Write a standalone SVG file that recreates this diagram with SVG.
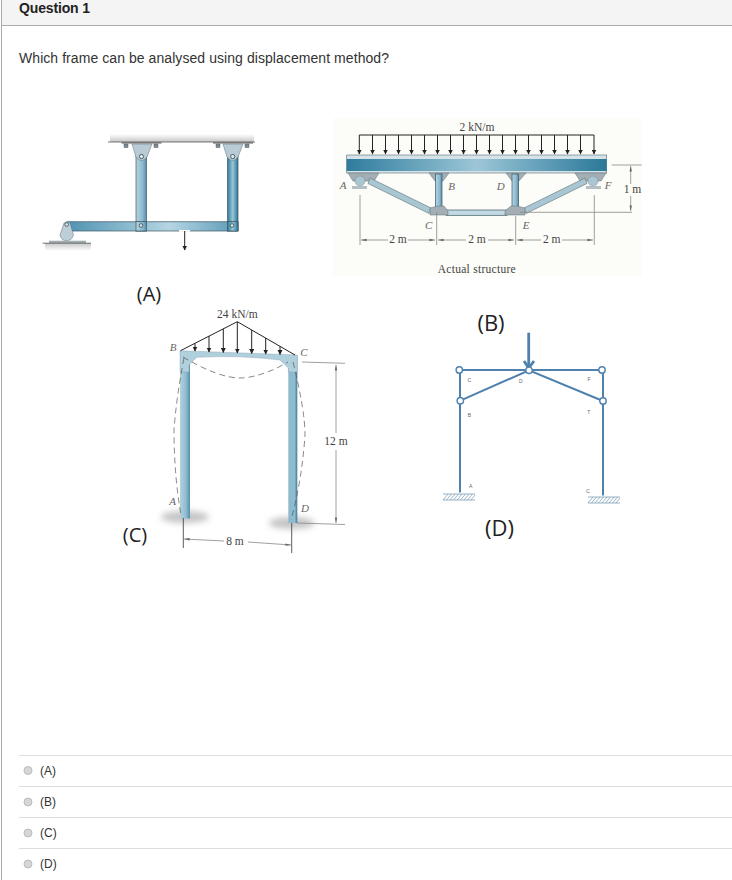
<svg xmlns="http://www.w3.org/2000/svg" width="732" height="880" viewBox="0 0 732 880">
<style>
.ui{font-family:"Liberation Sans",Arial,sans-serif;fill:#333}
.lab{font-family:"Open Sans","Noto Sans",sans-serif;fill:#222;font-size:20px}
.se{font-family:"Liberation Serif","Times New Roman",serif;fill:#444;font-size:11.5px}
.it{font-family:"Liberation Serif","Times New Roman",serif;fill:#666;font-size:11px;font-style:italic;text-anchor:middle}
.mid{text-anchor:middle}
.mem{stroke:#3d5663;stroke-width:.7}
.dim{stroke:#888;stroke-width:.8;fill:none}
.blk{stroke:#222;stroke-width:1;fill:none}
.pin{fill:#dfe9ee;stroke:#2f4653;stroke-width:.8}
.gus{fill:#a3afb4;stroke:#5f7078;stroke-width:.5}
.dash{fill:none;stroke:#555;stroke-width:.7;stroke-dasharray:6 4}
.bl{stroke:#4f81ad;stroke-width:2;fill:none}
.nd{fill:#fff;stroke:#4f81ad;stroke-width:1.4}
.sm{font-family:"Liberation Sans",Arial,sans-serif;font-size:5px;fill:#666;text-anchor:middle}
.rule{stroke:#ddd;stroke-width:1}
.radio{fill:#d6d6d6;stroke:#bdbdbd;stroke-width:1}
</style>
<defs>
<linearGradient id="h" x1="0" x2="1" y1="0" y2="0"><stop offset="0" stop-color="#4f93b1"/><stop offset=".6" stop-color="#b5d5e3"/><stop offset="1" stop-color="#5a9ab6"/></linearGradient>
<linearGradient id="v" x1="0" x2="1" y1="0" y2="0"><stop offset="0" stop-color="#b4d2e0"/><stop offset=".6" stop-color="#8fbcd0"/><stop offset="1" stop-color="#558fab"/></linearGradient>
<linearGradient id="vr" x1="0" x2="1" y1="0" y2="0"><stop offset="0" stop-color="#8db9cd"/><stop offset=".7" stop-color="#8fbcd0"/><stop offset="1" stop-color="#3a7a99"/></linearGradient>
<linearGradient id="b" x1="0" x2="1" y1="0" y2="0"><stop offset="0" stop-color="#2e7c9d"/><stop offset=".5" stop-color="#9cc6d7"/><stop offset="1" stop-color="#2a7899"/></linearGradient>
<linearGradient id="sh" x1="0" x2="0" y1="0" y2="1"><stop offset="0" stop-color="#ccc" stop-opacity="0"/><stop offset="1" stop-color="#c4c4c4"/></linearGradient>
<linearGradient id="sd" x1="0" x2="0" y1="0" y2="1"><stop offset="0" stop-color="#c4c4c4"/><stop offset="1" stop-color="#ccc" stop-opacity="0"/></linearGradient>
<filter id="blur" x="-30%" y="-60%" width="160%" height="220%"><feGaussianBlur stdDeviation="3"/></filter>
<marker id="ah" markerWidth="6" markerHeight="6" refX="4.500" refY="2.500" orient="auto"><path d="M0 0L5 2.500L0 5z" fill="#222"/></marker>
<marker id="dh" markerWidth="8" markerHeight="6" refX="7" refY="2" orient="auto-start-reverse"><path d="M0 .5L7 2L0 3.500z" fill="#666"/></marker>
</defs>

<g id="header">
<rect x="1" y="0" width="731" height="25" fill="#f4f4f4"/>
<path d="M1.500 0V880" stroke="#aaa" stroke-width="1"/>
<path d="M1 25.500H732" stroke="#aaa" stroke-width="1"/>
<text class="ui" x="19" y="13" font-size="14" font-weight="bold" style="fill:#222" textLength="71">Question 1</text>
<text class="ui" x="19" y="63" font-size="14" textLength="370">Which frame can be analysed using displacement method?</text>
</g>

<g id="frame-a">
<rect x="110" y="134" width="144" height="8" fill="url(#sh)"/>
<rect x="45" y="243" width="46" height="8" fill="url(#sd)"/>
<path d="M108 142H255" stroke="#555" stroke-width=".8"/>
<rect x="121.500" y="142" width="40" height="1.600" fill="#777"/>
<rect x="213" y="142" width="40" height="1.600" fill="#777"/>
<g fill="#7d8d95" stroke="#444" stroke-width=".4">
<rect x="124" y="144" width="4" height="3.500"/><rect x="154" y="144" width="4" height="3.500"/>
<rect x="216" y="144" width="4" height="3.500"/><rect x="245" y="144" width="4" height="3.500"/>
</g>
<rect class="mem" x="136" y="155" width="10.500" height="76" fill="url(#v)"/>
<rect class="mem" x="227.500" y="155" width="10.500" height="76" fill="url(#b)"/>
<path class="mem" d="M67 221.700H238V231H67z" fill="url(#h)"/>
<rect class="mem" x="136" y="221.700" width="10.500" height="9.300" fill="url(#v)" stroke="#111"/>
<rect class="mem" x="227.500" y="221.700" width="10.500" height="9.300" fill="url(#b)"/>
<path class="gus" d="M132 144H152L147 157Q141.500 164 136 157z" style="fill:#b9ccd5"/>
<path class="gus" d="M223 144H243L238 157Q232.700 164 227 157z" style="fill:#b9ccd5"/>
<circle class="pin" cx="141.500" cy="156.500" r="2.100"/>
<circle class="pin" cx="232.700" cy="156.500" r="2.100"/>
<circle class="pin" cx="141" cy="225.500" r="1.800"/>
<circle class="pin" cx="232" cy="225.500" r="1.800"/>
<path class="gus" d="M64 223Q67 220.500 70 223L73.500 235Q72 240.700 66.500 240.700Q61 240.700 60 235z" style="fill:#bccfd8"/>
<circle class="pin" cx="66.700" cy="224.500" r="1.800"/>
<rect x="49" y="240.700" width="37" height="2.300" fill="#a4afb4"/>
<path d="M42.500 243.200H91" stroke="#555" stroke-width=".8"/>
<rect x="179" y="230" width="11" height="1.800" fill="#fff"/>
<path class="blk" d="M184.700 231V250" marker-end="url(#ah)"/>
<text class="lab" x="149" y="301" text-anchor="middle">(A)</text>
</g>

<g id="frame-b">
<rect x="333" y="118" width="309" height="158" fill="#fcfcf8"/>
<rect x="346.700" y="155" width="260" height="18" fill="#d5e3e8" stroke="#5a6d76" stroke-width=".6"/>
<rect x="346.700" y="159" width="260" height="12" fill="url(#b)"/>
<path class="gus" d="M348 173H379L374 181H353z"/>
<path class="gus" d="M575 173H606L601 181H580z"/>
<path class="gus" d="M429 173H449L443 181H435z"/>
<path class="gus" d="M506 173H526L519 181H512z"/>
<path d="M370 178L431 208L429 213.500L368 183.500z" fill="#a9c6d3" stroke="#5f7078" stroke-width=".6"/>
<path d="M585 178L524 208L526 213.500L587 183.500z" fill="#a9c6d3" stroke="#5f7078" stroke-width=".6"/>
<rect class="mem" x="435.500" y="174" width="6.500" height="37" fill="url(#v)"/>
<rect class="mem" x="512" y="174" width="6.500" height="37" fill="url(#v)"/>
<rect class="mem" x="446" y="210" width="61" height="5.300" fill="#c3dae4"/>
<path class="gus" d="M430 215V208L438 206H444L448 211V215z"/>
<path class="gus" d="M525 215V208L517 206H511L505 211V215z"/>
<circle cx="360" cy="181" r="5" fill="#a9c6d3" stroke="#778" stroke-width=".4"/>
<circle cx="593" cy="181" r="5" fill="#a9c6d3" stroke="#778" stroke-width=".4"/>
<rect x="352" y="186" width="15" height="3" fill="#b4bfc3"/>
<rect x="586" y="186" width="15" height="3" fill="#b4bfc3"/>
<g class="blk" id="loads-b" stroke-width=".9">
<path d="M359.300 135H594"/>
<path d="M359.300 135V154" marker-end="url(#ah)"/><path d="M372.500 135V154" marker-end="url(#ah)"/><path d="M385.500 135V154" marker-end="url(#ah)"/><path d="M398.500 135V154" marker-end="url(#ah)"/><path d="M411.500 135V154" marker-end="url(#ah)"/><path d="M424.500 135V154" marker-end="url(#ah)"/><path d="M437.500 135V154" marker-end="url(#ah)"/><path d="M450.500 135V154" marker-end="url(#ah)"/><path d="M463.500 135V154" marker-end="url(#ah)"/><path d="M476.500 135V154" marker-end="url(#ah)"/><path d="M489.500 135V154" marker-end="url(#ah)"/><path d="M502.500 135V154" marker-end="url(#ah)"/><path d="M515.500 135V154" marker-end="url(#ah)"/><path d="M528.500 135V154" marker-end="url(#ah)"/><path d="M541.500 135V154" marker-end="url(#ah)"/><path d="M554.500 135V154" marker-end="url(#ah)"/><path d="M567.500 135V154" marker-end="url(#ah)"/><path d="M580.500 135V154" marker-end="url(#ah)"/><path d="M594 135V154" marker-end="url(#ah)"/>
</g>
<g class="dim">
<path d="M360 195V245M436.700 212V245M515.700 216V245M594.300 195V245"/>
<path d="M520 212.300H632M611.700 165H641.700"/>
<path d="M361 240H388" marker-start="url(#dh)"/><path d="M408 240H435" marker-end="url(#dh)"/>
<path d="M438 240H466" marker-start="url(#dh)"/><path d="M488 240H514" marker-end="url(#dh)"/>
<path d="M517 240H541" marker-start="url(#dh)"/><path d="M562 240H593" marker-end="url(#dh)"/>
<path d="M630.700 166V184" marker-start="url(#dh)"/><path d="M630.700 196V211" marker-end="url(#dh)"/>
</g>
<text class="se mid" x="477" y="130.500">2 kN/m</text>
<text class="se mid" x="398" y="243">2 m</text>
<text class="se mid" x="477" y="243">2 m</text>
<text class="se mid" x="551.700" y="243">2 m</text>
<text class="se mid" x="632.500" y="192.500">1 m</text>
<text class="se mid" x="476.700" y="272.500" textLength="78">Actual structure</text>
<text class="it" x="343" y="189">A</text><text class="it" x="451.700" y="190">B</text><text class="it" x="500.700" y="190">D</text><text class="it" x="608" y="189">F</text><text class="it" x="428.700" y="229">C</text><text class="it" x="526" y="229">E</text>
<text class="lab" x="491" y="331" text-anchor="middle" style="font-size:22px">(B)</text>
</g>

<g id="frame-c">
<ellipse cx="185" cy="517" rx="24" ry="6" fill="#c4c4c4" filter="url(#blur)"/>
<ellipse cx="291.700" cy="523" rx="23" ry="6" fill="#c4c4c4" filter="url(#blur)"/>
<rect x="180" y="352" width="10" height="166.500" fill="url(#v)"/>
<rect x="288.300" y="356" width="9" height="167" fill="url(#vr)"/>
<path d="M180 350.700L297.300 355V372H288.300V368L280 360Q240 355 196.700 357.300L189 365V372H180z" fill="#b0d0de" stroke="#7f9dab" stroke-width=".4"/>
<path class="dash" d="M184 358Q176 400 174 430Q174 475 181 515"/>
<path class="dash" d="M293 362Q305 410 305 435Q302 480 291 520"/>
<path class="dash" d="M183 357C205 370 225 378 240 378C255 378 275 370 288 362"/>
<path class="blk" d="M180.500 350.700L237.300 321.700L295 355" stroke-width=".7"/>
<path class="blk" d="M195 343.500V351" marker-end="url(#ah)"/>
<path class="blk" d="M209 336V352" marker-end="url(#ah)"/>
<path class="blk" d="M223.300 329V352.500" marker-end="url(#ah)"/>
<path class="blk" d="M237.300 322V353" marker-end="url(#ah)"/>
<path class="blk" d="M251.700 330V353.500" marker-end="url(#ah)"/>
<path class="blk" d="M265.700 338V354" marker-end="url(#ah)"/>
<path class="blk" d="M280 346V354.500" marker-end="url(#ah)"/>
<g class="dim">
<path d="M302 362L345 363.300M297 523L345 524.500"/>
<path d="M336 365V433" marker-start="url(#dh)"/><path d="M336 450V523" marker-end="url(#dh)"/>
<path d="M183.300 518V548M291.700 523V553" stroke="#333"/>
<path d="M184 539L224 541" marker-start="url(#dh)"/><path d="M248 542L291 545" marker-end="url(#dh)"/>
</g>
<text class="se mid" x="237.300" y="317.500">24 kN/m</text>
<text class="se mid" x="336" y="445">12 m</text>
<text class="se mid" x="235" y="545">8 m</text>
<text class="it" x="173" y="351">B</text><text class="it" x="304" y="356">C</text><text class="it" x="172.700" y="505">A</text><text class="it" x="305" y="512">D</text>
<text class="lab" x="135" y="542" text-anchor="middle">(C)</text>
</g>

<g id="frame-d">
<path class="bl" d="M460 370V492.500M603 370V495.500M459.300 370H602M460.300 400.700L529 370.300L603 401"/>
<path d="M528.700 332.700V367" stroke="#4f81ad" stroke-width="2.800" fill="none"/>
<path d="M524 361L528.700 368L534 361" stroke="#4f81ad" stroke-width="2.800" fill="none"/>
<circle class="nd" cx="459.300" cy="370" r="3.200"/><circle class="nd" cx="529" cy="370.300" r="3.200"/><circle class="nd" cx="602" cy="370" r="3.200"/><circle class="nd" cx="460.300" cy="400.700" r="3.200"/><circle class="nd" cx="603" cy="401" r="3.200"/>
<g stroke="#7fa0b5" stroke-width=".8">
<path d="M443 494H475M588 497H620M443 500H475M588 503H620"/>
<path d="M443 500L448 494M446.500 500L451.500 494M450 500L455 494M453.500 500L458.500 494M457 500L462 494M460.500 500L465.500 494M464 500L469 494M467.500 500L472.500 494M471 500L475 495"/>
<path d="M588 503L593 497M591.500 503L596.500 497M595 503L600 497M598.500 503L603.500 497M602 503L607 497M605.500 503L610.500 497M609 503L614 497M612.500 503L617.500 497M616 503L620 498"/>
</g>
<text class="sm" x="469.300" y="382">C</text><text class="sm" x="520.700" y="382.500">D</text><text class="sm" x="589" y="381">F</text><text class="sm" x="469.300" y="417">B</text><text class="sm" x="588.700" y="413.500">T</text><text class="sm" x="470.700" y="487.500">A</text><text class="sm" x="588" y="493">C</text>
<text class="lab" x="499.500" y="536" text-anchor="middle" style="font-size:22px">(D)</text>
</g>

<g id="options">
<path class="rule" d="M19 755.500H732M19 786.500H732M19 817.500H732M19 848.500H732"/>
<circle class="radio" cx="28" cy="770.500" r="4"/><text class="ui" x="40" y="775" font-size="12">(A)</text>
<circle class="radio" cx="28" cy="802" r="4"/><text class="ui" x="40" y="806" font-size="12">(B)</text>
<circle class="radio" cx="28" cy="833" r="4"/><text class="ui" x="40" y="837" font-size="12">(C)</text>
<circle class="radio" cx="28" cy="864" r="4"/><text class="ui" x="40" y="868" font-size="12">(D)</text>
</g>
</svg>
